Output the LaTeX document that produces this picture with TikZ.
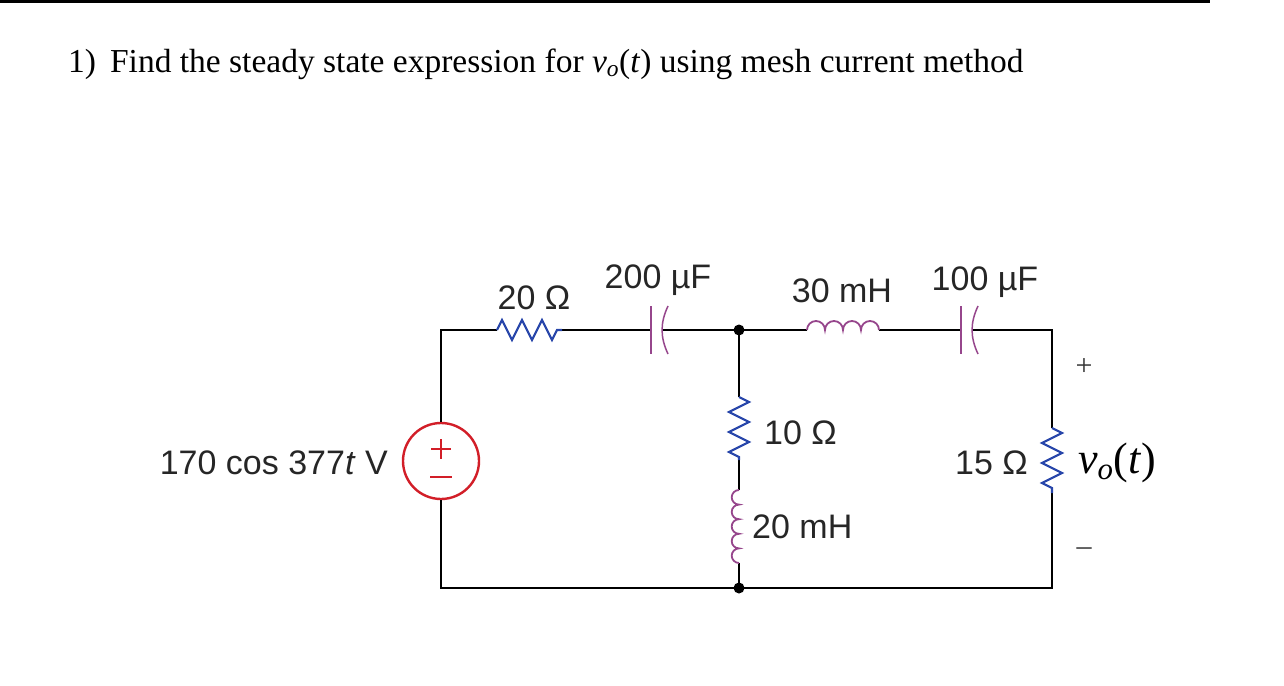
\documentclass[tikz,border=0pt]{standalone}
\usepackage{fontspec}
\setmainfont{Liberation Serif}
\newfontfamily\lab{Liberation Sans}
\usetikzlibrary{decorations.pathmorphing}
\definecolor{resblue}{RGB}{40,70,170}
\definecolor{indpur}{RGB}{150,70,140}
\definecolor{srcred}{RGB}{210,30,40}
\tikzset{
  wire/.style={line width=2.2pt,black},
  resz/.style={line width=2.2pt,resblue,decorate,decoration={zigzag,segment length=20pt,amplitude=10pt}},
  indc/.style={line width=1.8pt,indpur},
  capp/.style={line width=1.5pt,indpur},
  lbl/.style={font=\lab\fontsize{34}{38}\selectfont,inner sep=0pt,text=black!85},
  dotn/.style={circle,fill=black,inner sep=0pt,minimum size=11pt}
}
\begin{document}
\begin{tikzpicture}[x=1pt,y=-1pt]
\useasboundingbox (0,0) rectangle (1284,685);
\fill[black] (0,0) rectangle (1210,3);
\node[anchor=base west,inner sep=0pt,font=\fontsize{33.5}{38}\selectfont] (title) at (68,73)
 {1)\hspace{14pt}Find the steady state expression for \textit{v\textsubscript{o}}(\textit{t}) using mesh current method};
% coordinates
\coordinate (tl) at (441,330); \coordinate (bl) at (441,588);
\coordinate (tm) at (739,330); \coordinate (bm) at (739,588);
\coordinate (tr) at (1052,330); \coordinate (br) at (1052,588);
\coordinate (r1a) at (497,330); \coordinate (r1b) at (562,330);
\coordinate (c1a) at (651,330); \coordinate (c1b) at (662,330);
\coordinate (l1a) at (807,330); \coordinate (l1b) at (879,330);
\coordinate (c2a) at (961,330); \coordinate (c2b) at (972,330);
\coordinate (r2a) at (739,397); \coordinate (r2b) at (739,460);
\coordinate (l2a) at (739,490); \coordinate (l2b) at (739,563);
\coordinate (r3a) at (1052,428); \coordinate (r3b) at (1052,493);
\node[circle,draw=srcred,line width=2.4pt,minimum size=76pt,inner sep=0pt] (src) at (441,461) {};
\draw[srcred,line width=2pt] (431,449) -- (451,449) (441,439) -- (441,459);
\draw[srcred,line width=2.2pt] (430,477) -- (452,477);
% wires
\draw[wire] (src.north) -- (tl) -- (r1a);
\draw[wire] (r1b) -- (c1a);
\draw[wire] (c1b) -- (tm) -- (l1a);
\draw[wire] (l1b) -- (c2a);
\draw[wire] (c2b) -- (tr) -- (r3a);
\draw[wire] (r3b) -- (br) -- (bl) -- (src.south);
\draw[wire] (tm) -- (r2a);
\draw[wire] (r2b) -- (l2a);
\draw[wire] (l2b) -- (bm);
% resistors
\draw[resz] (r1a) -- (r1b);
\draw[resz] (r2a) -- (r2b);
\draw[resz] (r3a) -- (r3b);
% capacitors
\draw[capp] (651,306) -- (651,354);
\draw[capp] (668,306) to[bend right=25] (668,354);
\draw[capp] (961,306) -- (961,354);
\draw[capp] (978,306) to[bend right=25] (978,354);
% inductors
\draw[indc] (l1a) \foreach \i in {0,1,2,3} { arc[start angle=180,end angle=360,radius=9] };
\draw[indc] (l2a) \foreach \i in {0,...,4} { arc[start angle=270,end angle=90,radius=7.3] };
\node[dotn] (n1) at (tm) {};
\node[dotn] (n2) at (bm) {};
% labels
\node[lbl] (lr1) at (534,298) {20 Ω};
\node[lbl] (lc1) at (658,280) {200 µF};
\node[lbl] (ll1) at (842,291) {30 mH};
\node[lbl] (lc2) at (985,282) {100 µF};
\node[lbl,anchor=west] (lr2) at (764,433) {10 Ω};
\node[lbl,anchor=west] (ll2) at (752,527) {20 mH};
\node[lbl,anchor=east] (lr3) at (1028,463) {15 Ω};
\node[lbl,anchor=east] (lsrc) at (388,463) {170 cos 377\textit{t} V};
\node[inner sep=0pt,font=\fontsize{30}{34}\selectfont,text=black!80] (pl) at (1084,367) {+};
\node[inner sep=0pt,font=\fontsize{30}{34}\selectfont,text=black!80] (mi) at (1084,552) {–};
\node[inner sep=0pt,anchor=west,font=\fontsize{44}{50}\selectfont] (vo) at (1078,463) {\textit{v}\textsubscript{\textit{o}}(\textit{t})};
\end{tikzpicture}
\end{document}
